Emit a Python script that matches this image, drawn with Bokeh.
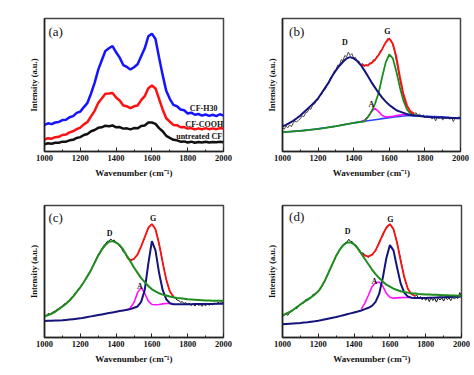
from bokeh.plotting import figure
from bokeh.layouts import column, row
from bokeh.models import Range1d, FixedTicker, Label
from bokeh.embed import file_html
from bokeh.resources import INLINE

# ---------------- data ----------------
WN = list(range(1000, 2001, 20))    # wavenumber grid for smooth curves (cm^-1)
WN10 = list(range(1000, 2001, 10))  # finer grid for measured fitted spectra
TICKS = [1000, 1200, 1400, 1600, 1800, 2000]
MINOR = [1100, 1300, 1500, 1700, 1900]

# panel (a) spectra (relative intensity)
a_h30 = [0.200,0.212,0.206,0.218,0.222,0.236,0.238,0.258,0.266,0.290,0.300,0.334,0.366,0.436,0.516,0.614,0.686,0.756,0.776,0.792,
         0.746,0.706,0.650,0.636,0.616,0.634,0.656,0.716,0.776,0.866,0.886,0.846,0.706,0.576,0.456,0.396,0.350,0.340,0.316,0.310,
         0.286,0.292,0.276,0.282,0.270,0.278,0.268,0.276,0.266,0.280,0.270]
a_cooh = [0.090,0.100,0.096,0.108,0.110,0.124,0.128,0.144,0.152,0.168,0.180,0.204,0.222,0.264,0.306,0.364,0.398,0.434,0.436,0.440,
          0.406,0.384,0.346,0.340,0.326,0.340,0.346,0.386,0.416,0.476,0.496,0.474,0.396,0.316,0.250,0.224,0.200,0.198,0.182,0.184,
          0.172,0.176,0.166,0.174,0.166,0.176,0.168,0.174,0.168,0.176,0.172]
a_untr = [0.055,0.062,0.058,0.066,0.066,0.074,0.074,0.084,0.088,0.102,0.108,0.124,0.132,0.152,0.162,0.178,0.182,0.194,0.190,0.196,
          0.182,0.184,0.172,0.174,0.166,0.176,0.174,0.192,0.196,0.218,0.218,0.208,0.176,0.152,0.118,0.102,0.088,0.084,0.074,0.076,
          0.068,0.074,0.066,0.072,0.068,0.074,0.068,0.072,0.070,0.074,0.070]
a_names = ["CF-H30", "CF-COOH", "untreated CF"]

# panel (b)  measured spectrum on the 10 cm^-1 grid
b_data = [0.180,0.168,0.192,0.178,0.200,0.186,0.214,0.226,0.222,0.236,0.246,0.268,0.262,0.292,0.296,0.322,0.318,0.352,0.356,0.384,
          0.390,0.422,0.428,0.462,0.466,0.502,0.512,0.556,0.562,0.604,0.612,0.650,0.648,0.690,0.684,0.722,0.712,0.748,0.722,0.736,
          0.700,0.708,0.676,0.680,0.648,0.662,0.638,0.656,0.640,0.668,0.660,0.690,0.684,0.718,0.724,0.758,0.764,0.804,0.812,0.848,
          0.842,0.840,0.796,0.748,0.676,0.606,0.532,0.470,0.408,0.366,0.332,0.318,0.298,0.296,0.280,0.292,0.270,0.282,0.262,0.276,
          0.252,0.270,0.258,0.266,0.244,0.262,0.230,0.258,0.248,0.262,0.236,0.256,0.248,0.262,0.242,0.258,0.224,0.256,0.246,0.262,
          0.250]
b_D = [0.190,0.200,0.215,0.230,0.250,0.270,0.295,0.320,0.345,0.370,0.400,0.440,0.480,0.520,0.570,0.610,0.645,0.675,0.700,0.710,
       0.700,0.680,0.650,0.610,0.565,0.520,0.480,0.440,0.405,0.375,0.350,0.330,0.310,0.300,0.290,0.280,0.275,0.270,0.268,0.265,
       0.262,0.260,0.258,0.256,0.255,0.254,0.253,0.252,0.251,0.250,0.250]
b_base = [0.145,0.147,0.149,0.151,0.153,0.155,0.158,0.161,0.164,0.167,0.170,0.174,0.178,0.182,0.186,0.190,0.195,0.200,0.205,0.210,
          0.215,0.219,0.223,0.227,0.231,0.235,0.239,0.243,0.247,0.251,0.255,0.258,0.261,0.264,0.267,0.270,0.269,0.268,0.267,0.266,
          0.265,0.264,0.263,0.262,0.261,0.260,0.258,0.256,0.254,0.252,0.250]
b_G = [0.145,0.147,0.149,0.151,0.153,0.155,0.158,0.161,0.164,0.167,0.170,0.174,0.178,0.182,0.186,0.190,0.195,0.200,0.205,0.210,
       0.215,0.219,0.223,0.227,0.260,0.300,0.360,0.440,0.560,0.670,0.730,0.700,0.600,0.480,0.380,0.315,0.285,0.275,0.270]
b_A = [0.225,0.235,0.260,0.300,0.325,0.300,0.270,0.260,0.262,0.265,0.270,0.275,0.278,0.280,0.276]       # from 1440
b_fit = [0.655,0.645,0.650,0.665,0.690,0.725,0.770,0.820,0.850,0.810,0.710,0.560,0.430,0.345,0.300,0.285]  # from 1440

# panel (c)
c_data = [0.172,0.164,0.182,0.176,0.186,0.196,0.200,0.214,0.216,0.232,0.238,0.254,0.258,0.276,0.284,0.304,0.312,0.336,0.344,0.370,
          0.380,0.404,0.420,0.446,0.468,0.492,0.516,0.544,0.572,0.600,0.628,0.650,0.672,0.694,0.708,0.728,0.730,0.746,0.734,0.738,
          0.718,0.712,0.690,0.676,0.650,0.636,0.610,0.598,0.582,0.588,0.592,0.612,0.628,0.660,0.690,0.724,0.758,0.796,0.828,0.850,
          0.858,0.846,0.818,0.772,0.710,0.642,0.572,0.500,0.440,0.390,0.352,0.326,0.308,0.298,0.284,0.280,0.268,0.270,0.258,0.264,
          0.250,0.258,0.242,0.256,0.238,0.254,0.244,0.250,0.236,0.252,0.240,0.256,0.244,0.254,0.248,0.260,0.254,0.266,0.258,0.270,
          0.262]
c_D = [0.160,0.170,0.180,0.195,0.215,0.235,0.255,0.280,0.310,0.345,0.380,0.420,0.465,0.510,0.565,0.620,0.665,0.700,0.725,0.730,
       0.720,0.700,0.665,0.620,0.575,0.530,0.490,0.450,0.420,0.390,0.365,0.350,0.335,0.325,0.318,0.310,0.305,0.300,0.297,0.294,
       0.290,0.288,0.286,0.284,0.282,0.280,0.280,0.279,0.279,0.278,0.278]
c_G = [0.125,0.126,0.127,0.128,0.129,0.130,0.133,0.136,0.139,0.142,0.145,0.150,0.155,0.160,0.165,0.170,0.175,0.180,0.185,0.190,
       0.195,0.200,0.205,0.210,0.215,0.225,0.235,0.270,0.360,0.560,0.730,0.660,0.490,0.360,0.290,0.260,0.252,0.251,0.251,0.252,
       0.252,0.252,0.253,0.253,0.253,0.254,0.254,0.254,0.255,0.255,0.255]
c_A = [0.205,0.225,0.265,0.340,0.380,0.335,0.275,0.250,0.248,0.250,0.255,0.258,0.258,0.255]   # from 1460
c_fit = [0.610,0.585,0.595,0.630,0.690,0.760,0.830,0.860,0.820,0.710,0.570,0.440,0.350,0.310]  # from 1460

# panel (d)
d_data = [0.158,0.170,0.176,0.168,0.190,0.196,0.206,0.222,0.218,0.240,0.252,0.262,0.262,0.288,0.290,0.304,0.300,0.326,0.330,0.340,
          0.348,0.362,0.388,0.410,0.438,0.470,0.502,0.528,0.560,0.586,0.620,0.646,0.664,0.690,0.704,0.718,0.722,0.744,0.728,0.726,
          0.706,0.700,0.682,0.664,0.642,0.640,0.628,0.616,0.606,0.624,0.630,0.644,0.656,0.694,0.722,0.752,0.768,0.808,0.836,0.852,
          0.852,0.846,0.822,0.776,0.714,0.656,0.596,0.522,0.452,0.410,0.372,0.346,0.328,0.322,0.312,0.322,0.296,0.310,0.286,0.302,
          0.282,0.300,0.272,0.302,0.280,0.298,0.268,0.300,0.284,0.302,0.276,0.304,0.288,0.300,0.280,0.306,0.292,0.304,0.296,0.340,
          0.312]
d_D = [0.165,0.180,0.195,0.210,0.230,0.250,0.270,0.285,0.305,0.325,0.350,0.390,0.440,0.500,0.560,0.620,0.665,0.700,0.720,0.720,
       0.705,0.675,0.635,0.595,0.555,0.515,0.480,0.450,0.425,0.400,0.385,0.370,0.360,0.350,0.345,0.340,0.336,0.333,0.330,0.328,
       0.326,0.325,0.324,0.323,0.322,0.321,0.320,0.319,0.318,0.317,0.316]
d_G = [0.100,0.102,0.104,0.106,0.108,0.110,0.113,0.116,0.120,0.123,0.127,0.132,0.138,0.144,0.150,0.155,0.162,0.169,0.176,0.183,
       0.190,0.197,0.205,0.215,0.225,0.240,0.270,0.330,0.450,0.600,0.700,0.660,0.530,0.410,0.340,0.310,0.302,0.300,0.300,0.300,
       0.300,0.301,0.302,0.303,0.304,0.305,0.306,0.307,0.308,0.309,0.310]
d_A = [0.215,0.260,0.320,0.385,0.415,0.420,0.390,0.335,0.305,0.298,0.300,0.302,0.303,0.303,0.302]        # from 1440
d_fit = [0.635,0.620,0.615,0.625,0.660,0.715,0.780,0.830,0.860,0.820,0.720,0.580,0.460,0.370,0.330,0.315]  # from 1440

# ---------------- styling helpers ----------------
SERIF = "Liberation Serif"
NAVY = "#14147a"
GREEN = "#1e8c1e"
MAG = "#ff10ff"
RED = "#ff1010"
BLUE = "#1414ff"
BRBLUE = "#2a44ff"


def xs_from(start, vals):
    i = WN.index(start)
    return WN[i:i + len(vals)]


def make_fig(bl, br, bt, bb, w, h):
    p = figure(width=w, height=h, output_backend="svg", toolbar_location=None,
               x_range=Range1d(1000, 2000), y_range=Range1d(0, 1),
               min_border_left=bl, min_border_right=br, min_border_top=bt, min_border_bottom=bb)
    p.grid.visible = False
    p.outline_line_color = "#444444"
    p.outline_line_width = 1.5
    p.background_fill_color = "white"
    p.border_fill_color = "white"
    xa = p.xaxis[0]
    xa.ticker = FixedTicker(ticks=TICKS, minor_ticks=MINOR)
    xa.major_tick_in = 4
    xa.major_tick_out = 0
    xa.minor_tick_in = 2
    xa.minor_tick_out = 0
    xa.axis_line_color = "#222222"
    xa.axis_line_width = 1.5
    xa.major_tick_line_color = "#222222"
    xa.minor_tick_line_color = "#222222"
    xa.major_label_text_font = SERIF
    xa.major_label_text_font_style = "bold"
    xa.major_label_text_font_size = "8.5px"
    xa.major_label_text_color = "#111111"
    xa.major_label_standoff = 3
    xa.axis_label = "Wavenumber (cm\u207b\u00b9)"
    xa.axis_label_text_font = SERIF
    xa.axis_label_text_font_style = "bold"
    xa.axis_label_text_font_size = "9px"
    xa.axis_label_text_color = "#111111"
    xa.axis_label_standoff = 4
    ya = p.yaxis[0]
    ya.ticker = FixedTicker(ticks=[])
    ya.major_tick_out = 0
    ya.minor_tick_out = 0
    ya.axis_line_color = "#222222"
    ya.axis_line_width = 1.5
    ya.axis_label = "Intensity (a.u.)"
    ya.axis_label_text_font = SERIF
    ya.axis_label_text_font_style = "bold"
    ya.axis_label_text_font_size = "8.5px"
    ya.axis_label_text_color = "#111111"
    ya.axis_label_standoff = 6
    return p


def txt(p, x, y, s, size="8px", bold=True, align="center"):
    p.add_layout(Label(x=x, y=y, text=s, text_font=SERIF, text_font_size=size,
                       text_font_style="bold" if bold else "normal",
                       text_align=align, text_baseline="middle", text_color="#111111"))


# ---------------- panel (a) ----------------
pa = make_fig(44, 14, 17, 36, 237, 187)
pa.line(WN, a_untr, line_color="#111111", line_width=2.5)
pa.line(WN, a_cooh, line_color=RED, line_width=2.5)
pa.line(WN, a_h30, line_color=BLUE, line_width=2.5)
txt(pa, 1966, 0.325, a_names[0], align="right")
txt(pa, 1998, 0.205, a_names[1], align="right")
txt(pa, 1992, 0.11, a_names[2], align="right")
txt(pa, 1022, 0.905, "(a)", size="13px", bold=False, align="left")

# ---------------- panel (b) ----------------
pb = make_fig(45, 14, 18, 36, 237, 187)
pb.line(WN10, b_data, line_color="#4a4a4a", line_width=1.0)
pb.line(WN, b_base, line_color=BRBLUE, line_width=1.6)
pb.line(xs_from(1440, b_A), b_A, line_color=MAG, line_width=1.6)
pb.line(WN[:len(b_G)], b_G, line_color=GREEN, line_width=1.8)
pb.line(xs_from(1440, b_fit), b_fit, line_color=RED, line_width=1.8)
pb.line(WN, b_D, line_color=NAVY, line_width=2.0)
txt(pb, 1351, 0.82, "D")
txt(pb, 1589, 0.905, "G")
txt(pb, 1499, 0.35, "A")
txt(pb, 1037, 0.905, "(b)", size="13px", bold=False, align="left")

# ---------------- panel (c) ----------------
pc = make_fig(44, 14, 17, 38, 237, 188)
pc.line(WN10, c_data, line_color="#111111", line_width=1.0)
pc.line(xs_from(1460, c_A), c_A, line_color=MAG, line_width=1.6)
pc.line(WN, c_G, line_color=NAVY, line_width=2.0)
pc.line(xs_from(1460, c_fit), c_fit, line_color=RED, line_width=1.8)
pc.line(WN, c_D, line_color=GREEN, line_width=2.0)
txt(pc, 1364, 0.79, "D")
txt(pc, 1607, 0.905, "G")
txt(pc, 1533, 0.39, "A")
txt(pc, 1022, 0.91, "(c)", size="13px", bold=False, align="left")

# ---------------- panel (d) ----------------
pd_ = make_fig(45, 13, 18, 38, 237, 188)
pd_.line(WN10, d_data, line_color="#111111", line_width=1.0)
pd_.line(xs_from(1440, d_A), d_A, line_color=MAG, line_width=1.6)
pd_.line(WN, d_G, line_color=NAVY, line_width=2.0)
pd_.line(xs_from(1440, d_fit), d_fit, line_color=RED, line_width=1.8)
pd_.line(WN, d_D, line_color=GREEN, line_width=2.0)
txt(pd_, 1364, 0.80, "D")
txt(pd_, 1602, 0.895, "G")
txt(pd_, 1514, 0.425, "A")
txt(pd_, 1037, 0.92, "(d)", size="13px", bold=False, align="left")

layout = column(row(pa, pb), row(pc, pd_))
open("out.html", "w").write(file_html(layout, INLINE))
